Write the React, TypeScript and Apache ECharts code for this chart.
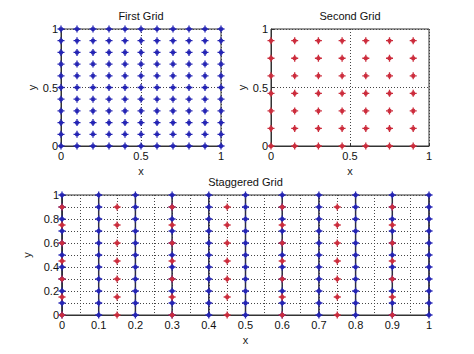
import React, { useEffect, useRef } from "react";
import * as echarts from "echarts";

const blueX = [0, 0.1, 0.2, 0.3, 0.4, 0.5, 0.6, 0.7, 0.8, 0.9, 1];
const blueY = [0, 0.1, 0.2, 0.3, 0.4, 0.5, 0.6, 0.7, 0.8, 0.9, 1];
const redX = [0, 0.15, 0.3, 0.45, 0.6, 0.75, 0.9];
const redY = [0, 0.15, 0.3, 0.45, 0.6, 0.75, 0.9];
const titles = ["First Grid", "Second Grid", "Staggered Grid"];

const FONT = "Liberation Sans, Arial, sans-serif";
const STAR = "path://M0 4L8 4M4 0L4 8M2.2 2.2L5.8 5.8M5.8 2.2L2.2 5.8";

function product(xs: number[], ys: number[]) {
  const out: number[][] = [];
  for (const x of xs) for (const y of ys) out.push([x, y]);
  return out;
}

export default function App() {
  const ref = useRef<HTMLDivElement>(null);
  useEffect(() => {
    if (!ref.current) return;
    const chart = echarts.init(ref.current, undefined, { renderer: "svg" });

    const grids = [
      { left: 61, top: 29, width: 160, height: 117 },
      { left: 271, top: 29, width: 158, height: 117 },
      { left: 62, top: 195, width: 367, height: 120 },
    ];

    const axisCommon = (name: string, interval: number, gi: number, minor: boolean, isX: boolean) => ({
      type: "value",
      gridIndex: gi,
      min: 0,
      max: 1,
      interval,
      name,
      nameLocation: "middle",
      nameGap: isX ? 19 : gi === 2 ? 27 : 24,
      nameTextStyle: { fontFamily: FONT, fontSize: 11, color: "#222" },
      axisLine: { show: true, onZero: false, lineStyle: { color: "#333", width: 1 } },
      axisTick: { show: true, inside: true, length: 3, lineStyle: { color: "#333" } },
      axisLabel: {
        fontFamily: FONT,
        fontSize: 11,
        color: "#111",
        margin: isX ? 4 : 3,
      },
      splitLine: { show: true, lineStyle: { type: [1, 2], color: "#444", width: 1 } },
      minorTick: { show: false, splitNumber: 2 },
      minorSplitLine: { show: minor, lineStyle: { type: [1, 2], color: "#444", width: 1 } },
    });

    const scatter = (gi: number, data: number[][], color: string) => ({
      type: "scatter",
      xAxisIndex: gi,
      yAxisIndex: gi,
      data,
      symbol: STAR,
      symbolSize: 7,
      clip: false,
      z: 5,
      itemStyle: { color: "none", borderColor: color, borderWidth: 1.3, opacity: 1 },
      emphasis: { disabled: true },
    });

    const lineSeries = blueX.map((x) => ({
      type: "line",
      xAxisIndex: 2,
      yAxisIndex: 2,
      data: blueY.map((y) => [x, y]),
      symbol: "none",
      clip: false,
      z: 3,
      lineStyle: { color: "#2e2e40", width: 1.5 },
      emphasis: { disabled: true },
    }));

    const option: any = {
      animation: false,
      backgroundColor: "#fff",
      title: titles.map((t, i) => ({
        text: t,
        left: grids[i].left + grids[i].width / 2,
        top: grids[i].top - 19,
        padding: 0,
        textAlign: "center",
        textStyle: { fontFamily: FONT, fontSize: 11, fontWeight: "normal", color: "#111" },
      })),
      grid: grids.map((g) => ({ ...g, show: true, borderColor: "#333", borderWidth: 1, backgroundColor: "transparent" })),
      xAxis: [
        axisCommon("x", 0.5, 0, false, true),
        axisCommon("x", 0.5, 1, false, true),
        axisCommon("x", 0.1, 2, true, true),
      ],
      yAxis: [
        axisCommon("y", 0.5, 0, false, false),
        axisCommon("y", 0.5, 1, false, false),
        axisCommon("y", 0.2, 2, true, false),
      ],
      series: [
        scatter(0, product(blueX, blueY), "#2424b4"),
        scatter(1, product(redX, redY), "#cc2c3c"),
        ...lineSeries,
        scatter(2, product(blueX, blueY), "#2424b4"),
        { ...scatter(2, product(redX, redY), "#cc2c3c"), z: 6 },
      ],
    };
    chart.setOption(option);
    return () => chart.dispose();
  }, []);
  return (
    <div
      ref={ref}
      style={{ position: "fixed", left: 0, top: 0, width: 474, height: 354, background: "#fff" }}
    />
  );
}
